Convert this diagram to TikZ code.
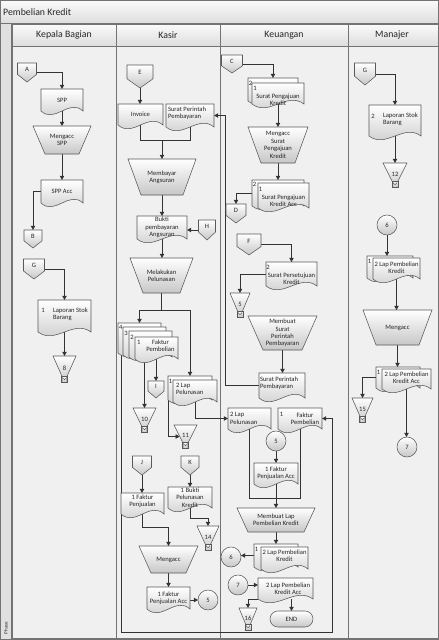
\documentclass[tikz,border=0pt]{standalone}
\usepackage{fontspec}
\setmainfont{Carlito}
\usetikzlibrary{arrows.meta,calc}
\pgfdeclarelayer{lanes}
\pgfdeclarelayer{lines}
\pgfdeclarelayer{shapes}
\pgfsetlayers{lanes,lines,shapes,main}

% document: [text opts]{name}{x1}{y1}{x2}{ymid}{text}
\newcommand\docu[7][]{%
  \node[geo,minimum width={(#5-#3)*1pt},minimum height={(#6-#4)*1pt}] (#2) at ({(#3+#5)/2},{(#4+#6)/2}) {};
  \begin{pgfonlayer}{shapes}
    \path[shp] (#3,#4) -- (#5,#4) -- (#5,#6) .. controls ({#5-(#5-#3)/3},{#6-13}) and ({#3+(#5-#3)/3},{#6+13}) .. (#3,#6) -- cycle;
  \end{pgfonlayer}
  \node[txt,#1] (#2-t) at (#2.center) {#7};%
}
% manual operation: [text opts]{name}{x1}{y1}{x2}{y2}{inset}{text}
\newcommand\manop[8][]{%
  \node[geo,minimum width={(#5-#3)*1pt},minimum height={(#6-#4)*1pt}] (#2) at ({(#3+#5)/2},{(#4+#6)/2}) {};
  \begin{pgfonlayer}{shapes}
    \path[shp] (#3,#4) -- (#5,#4) -- ({#5-#7},#6) -- ({#3+#7},#6) -- cycle;
  \end{pgfonlayer}
  \node[txt,#1] (#2-t) at (#2.center) {#8};%
}
% off-page connector: {name}{cx}{y1}{y2}{halfwidth}{text}
\newcommand\offpg[6]{%
  \node[geo,minimum width={2*#5*1pt},minimum height={(#4-#3)*1pt}] (#1) at (#2,{(#3+#4)/2}) {};
  \begin{pgfonlayer}{shapes}
    \path[shp] ({#2-#5},#3) -- ({#2+#5},#3) -- ({#2+#5},{#3+0.6*(#4-#3)}) -- (#2,#4) -- ({#2-#5},{#3+0.6*(#4-#3)}) -- cycle;
  \end{pgfonlayer}
  \node[txt] (#1-t) at (#2,{#3+0.34*(#4-#3)}) {#6};%
}
% storage triangle: {name}{x1}{y1}{x2}{y2}{text}
\newcommand\mergetri[6]{%
  \node[geo,minimum width={(#4-#2)*1pt},minimum height={(#5-#3)*1pt}] (#1) at ({(#2+#4)/2},{(#3+#5)/2}) {};
  \begin{pgfonlayer}{shapes}
    \path[shp] (#2,#3) -- (#4,#3) -- ({(#2+#4)/2},#5) -- cycle;
    \path[shp] ({(#2+#4)/2-3.2},{#5-6}) rectangle ({(#2+#4)/2+3.2},{#5+0.5});
    \draw[black!65,line width=0.4pt] ({(#2+#4)/2-2},{#5-0.5}) -- ({(#2+#4)/2-2},{#5-4.5}) -- ({(#2+#4)/2},{#5-2.2}) -- ({(#2+#4)/2+2},{#5-4.5}) -- ({(#2+#4)/2+2},{#5-0.5});
  \end{pgfonlayer}
  \node[txt] (#1-t) at ({(#2+#4)/2},{#3+0.47*(#5-#3)}) {#6};%
}
% on-page connector: {name}{cx}{cy}{text}
\newcommand\oncon[4]{%
  \node[geo,circle,minimum size=20pt] (#1) at (#2,#3) {};
  \begin{pgfonlayer}{shapes}
    \path[shp] (#2,#3) circle[radius=10pt];
  \end{pgfonlayer}
  \node[txt] (#1-t) at (#1.center) {#4};%
}

\begin{document}
\begin{tikzpicture}[x=1pt,y=-1pt,
  shp/.style={draw=black!65,line width=0.55pt,top color=white,bottom color=black!22},
  geo/.style={draw=none,inner sep=0pt,outer sep=0pt},
  txt/.style={inner sep=0pt,outer sep=0pt,align=center,text=black!85,font=\fontsize{6.6}{7.4}\selectfont},
  num/.style={inner sep=0pt,text=black!85,font=\fontsize{6.6}{7.4}\selectfont},
  conn/.style={draw=black!80,line width=0.6pt},
  arr/.style={conn,-{Triangle[length=4.2pt,width=4.4pt]}},
  hdr/.style={draw=black!55,line width=0.5pt,top color=black!2,bottom color=black!13},
  hdrtxt/.style={inner sep=0pt,text=black!85,font=\fontsize{9.8}{11}\selectfont},
]
\useasboundingbox (0,0) rectangle (439,640);

\begin{pgfonlayer}{lanes}
  \fill[black!10] (0,0) rectangle (439,640);
  \path[hdr] (0.5,0.5) rectangle (438.5,23);
  \path[draw=black!55,line width=0.5pt,fill=black!12] (0.5,23) rectangle (11.5,639.5);
  \foreach \a/\b in {12/116,116/220,220/348,348/438}{
    \path[hdr] (\a,24) rectangle (\b,46);
    \path[draw=black!55,line width=0.5pt,fill=black!6] (\a,46) rectangle (\b,638);
  }
  \draw[black!55,line width=0.5pt] (0.5,0.5) rectangle (438.5,639.5);
\end{pgfonlayer}

\node[hdrtxt,anchor=west] (title) at (3,12) {Pembelian Kredit};
\node[hdrtxt] (h1) at (64,35) {Kepala Bagian};
\node[hdrtxt] (h2) at (168,35) {Kasir};
\node[hdrtxt] (h3) at (284,35) {Keuangan};
\node[hdrtxt] (h4) at (392,35) {Manajer};
\node[num,rotate=90,font=\fontsize{5}{6}\selectfont] (phase) at (6,628) {Phase};

% ---------- Kepala Bagian ----------
\offpg{A}{27}{63}{82}{9.5}{A}
\docu{spp}{41}{89}{83}{111}{SPP}
\manop{mspp}{33}{126}{91}{154}{12}{Mengacc\\SPP}
\docu{sppacc}{41}{180}{83}{203}{SPP Acc}
\offpg{B}{33}{230}{248}{9}{B}
\offpg{G}{34}{259}{279}{10.5}{G}
\docu[anchor=west,xshift=-11.5pt,yshift=1.5pt,align=left]{lsb1}{38}{300}{91}{332}{Laporan Stok\\Barang}
\node[num] (lsb1-n) at (43,310) {1};
\mergetri{t8}{53}{356}{76}{382}{8}

% ---------- Kasir ----------
\offpg{E}{140}{65}{88}{13}{E}
\docu{inv}{118}{104}{163}{125}{Invoice}
\docu[anchor=west,xshift=-22pt,yshift=2pt,align=left]{spb1}{166}{104}{214}{127}{Surat Perintah\\Pembayaran}
\coordinate (j0) at (162,140);
\manop{mba}{128}{159}{196}{195}{13}{Membayar\\Angsuran}
\docu{bpa}{137}{216}{187}{239}{Bukti\\pembayaran\\Angsuran}
\offpg{H}{207}{220}{240}{8.5}{H}
\manop{mp}{130}{258}{193}{293}{13}{Melakukan\\Pelunasan}
\coordinate (j1) at (161.5,310);
\docu{fp4}{118}{323}{161}{353}{}
\docu{fp3}{123}{327}{166}{355}{}
\docu{fp2}{129}{331}{172}{357}{}
\docu[xshift=4pt,yshift=2pt]{fp1}{135}{337}{178}{359}{Faktur\\Pembelian}
\node[num] (fp4-n) at (120.7,327.5) {4};
\node[num] (fp3-n) at (126,333) {3};
\node[num] (fp2-n) at (132,337) {2};
\node[num] (fp1-n) at (138.7,342.3) {1};
\offpg{I}{156}{381}{398}{8}{I}
\mergetri{t10}{133}{408}{156}{432}{10}
\docu{lp1}{168}{376}{212}{400}{}
\docu[anchor=west,xshift=-19pt,yshift=2pt,align=left]{lp2}{173}{380}{217}{402}{2 Lap\\Pelunasan}
\node[num] (lp1-n) at (170.5,381) {1};
\mergetri{t11}{174}{425}{197}{448}{11}
\offpg{J}{142}{456}{475}{9.5}{J}
\offpg{K}{190}{456}{475}{9}{K}
\docu[yshift=2pt]{fpj}{121}{493}{164}{514}{1 Faktur\\Penjualan}
\docu{bpk}{168}{487}{212}{508}{1 Bukti\\Pelunasan\\Kredit}
\mergetri{t14}{197}{526}{219}{550}{14}
\manop{macc1}{139}{546}{198}{573}{12}{Mengacc}
\docu{fpa}{147}{587}{190}{609}{1 Faktur\\Penjualan Acc}
\oncon{c5k}{208}{600}{5}
\coordinate (c2) at (332,632);

% ---------- Keuangan ----------
\offpg{C}{232}{55}{73}{10.5}{C}
\docu{spk2}{248}{78}{298}{101}{}
\docu[yshift=-6pt]{spk1}{252}{83}{304}{104}{Surat Pengajuan\\Kredit}
\node[num] (spk2-n) at (250.5,83) {2};
\node[num] (spk1-n) at (255,88) {1};
\manop{mspk}{248}{127}{308}{163}{13}{Mengacc\\Surat\\Pengajuan\\Kredit}
\docu{spa2}{252}{180}{304}{206}{}
\docu[yshift=-5pt]{spa1}{258}{183}{309}{208}{Surat Pengajuan\\Kredit Acc}
\node[num] (spa2-n) at (254.5,184) {2};
\node[num] (spa1-n) at (260.5,189) {1};
\offpg{D}{236}{204}{223}{10}{D}
\offpg{F}{249}{234}{255}{12}{F}
\docu[yshift=-5pt]{spk}{266}{262}{317}{286}{Surat Persetujuan\\Kredit}
\node[num] (spk-n) at (268,267) {2};
\mergetri{t5}{230}{293}{250}{317}{5}
\manop{msp}{248}{316}{317}{350}{15}{Membuat\\Surat\\Perintah\\Pembayaran}
\docu[anchor=west,xshift=-22pt,yshift=2pt,align=left]{spb2}{259}{373}{305}{398}{Surat Perintah\\Pembayaran}
\docu[anchor=west,xshift=-19.5pt,align=left]{lpk}{228}{408}{271}{429}{2 Lap\\Pelunasan}
\docu[xshift=5pt]{fpk}{278}{408}{322}{429}{Faktur\\Pembelian}
\node[num] (fpk-n) at (281.5,414) {1};
\oncon{c5}{276}{441}{5}
\docu{fpak}{254}{463}{298}{484}{1 Faktur\\Penjualan Acc}
\coordinate (j3) at (276,498);
\manop{mlp}{237}{508}{315}{532}{11}{Membuat Lap\\Pembelian Kredit}
\docu{lpbb}{254}{544}{298}{567}{}
\docu[yshift=2.5pt]{lpbf}{261}{547}{308}{569}{2 Lap Pembelian\\Kredit}
\node[num] (lpbb-n) at (256.5,549) {1};
\oncon{c6k}{231}{557}{6}
\oncon{c7k}{238}{585}{7}
\docu[xshift=2.5pt]{lpa}{258}{578}{313}{599}{2 Lap Pembelian\\Kredit Acc}
\mergetri{t16}{239}{608}{257}{630}{16}
\node[geo,minimum width=43pt,minimum height=16pt] (end) at (291.5,619) {};
\begin{pgfonlayer}{shapes}
  \path[shp,rounded corners=8pt] (270,611) rectangle (313,627);
\end{pgfonlayer}
\node[txt] (end-t) at (end.center) {END};

% ---------- Manajer ----------
\offpg{G2}{365}{63}{85}{10.5}{G}
\docu[anchor=west,xshift=-12pt,yshift=1pt,align=left]{lsb2}{369}{105}{421}{136}{Laporan Stok\\Barang}
\node[num] (lsb2-n) at (373,116) {2};
\mergetri{t12}{383}{163}{407}{187}{12}
\oncon{c6m}{387}{225}{6}
\docu{lpmb}{367}{256}{413}{278}{}
\docu[yshift=1pt]{lpmf}{373}{258}{420}{279}{2 Lap Pembelian\\Kredit}
\node[num] (lpmb-n) at (369.5,261) {1};
\manop{macm}{363}{310}{432}{345}{13}{Mengacc}
\docu{lpamb}{376}{367}{420}{388}{}
\docu[yshift=1pt]{lpamf}{382}{369}{431}{389}{2 Lap Pembelian\\Kredit Acc}
\node[num] (lpamb-n) at (378.5,372) {1};
\mergetri{t15}{352}{398}{373}{422}{15}
\oncon{c7m}{407}{447}{7}

% ---------- connectors ----------
\begin{pgfonlayer}{lines}
\draw[arr] (A.east) -| (spp.north);
\draw[arr] (spp.south) -- (mspp.north);
\draw[arr] (mspp.south) -- (sppacc.north);
\draw[arr] (sppacc.west) -| (B.north);
\draw[arr] (G.east) -| (lsb1.north);
\draw[arr] (lsb1.south) -- (t8.north);

\draw[arr] (E.south) -- (E.south |- inv.north);
\draw[conn] (inv.south) |- (j0);
\draw[conn] (spb1.south) |- (j0);
\draw[arr] (j0) -- (mba.north);
\draw[arr] (mba.south) -- (bpa.north);
\draw[arr] (H.west) -- (H.west -| bpa.east);
\draw[arr] (bpa.south) -- (bpa.south |- mp.north);
\draw[conn] (mp.south) -- (j1);
\draw[arr] (j1) -| (fp4.north);
\draw[arr] (j1) -| (lp1.north);
\draw[arr] (I.north |- fp1.south) -- (I.north);
\draw[arr] (t10.north |- fp1.south) -- (t10.north);
\draw[arr] (lp1.south west) |- ($(t11.north west)!0.5!(t11.south)$);
\draw[arr] (lp2.south) |- (lpk.west);
\draw[arr] ($(fp4.south west)+(3,0)$) |- (c2) |- (fpk.east);
\draw[arr] (J.south) -- (J.south |- fpj.north);
\draw[arr] (K.south) -- (bpk.north);
\draw[arr] (fpj.south) -- ++(0,13) -| (macc1.north);
\draw[arr] (bpk.south) -- ++(0,10) -| (t14.north);
\draw[arr] (macc1.south) -- (fpa.north);
\draw[arr] (c5k.west -| fpa.east) -- (c5k.west);

\draw[arr] (C.east) -| (spk2.north);
\draw[arr] (spk1.south) -- (mspk.north);
\draw[arr] (mspk.south) -- (spa2.north);
\draw[arr] (spa2.west) -| (D.north);
\draw[arr] (F.east) -| (spk.north);
\draw[arr] (spk.west) -| (t5.north);
\draw[arr] (msp.south) -- (msp.south |- spb2.north);
\draw[arr] (spb2.west) -- ++(-34,0) |- (spb1.east);
\draw[arr] (c5.south) -- (fpak.north);
\draw[conn] (lpk.south) |- (j3);
\draw[conn] (fpk.south) |- (j3);
\draw[conn] (fpak.south) -- (j3);
\draw[arr] (j3) -- (mlp.north);
\draw[arr] (mlp.south) -- (lpbb.north);
\draw[arr] (lpbb.west) -- (lpbb.west -| c6k.east);
\draw[arr] (c7k.east) -- (c7k.east -| lpa.west);
\draw[arr] (lpa.south west) -| (t16.north);
\draw[arr] (end.north |- lpa.south) -- (end.north);

\draw[arr] (G2.east) -| (lsb2.north);
\draw[arr] (lsb2.south) -- (t12.north);
\draw[arr] (c6m.south) -- (c6m.south |- lpmb.north);
\draw[arr] (lpmf.south) -- (lpmf.south |- macm.north);
\draw[arr] (macm.south) -- (macm.south |- lpamb.north);
\draw[arr] (lpamb.west) -| (t15.north);
\draw[arr] (lpamf.south) -- (lpamf.south |- c7m.north);
\end{pgfonlayer}
\end{tikzpicture}
\end{document}
